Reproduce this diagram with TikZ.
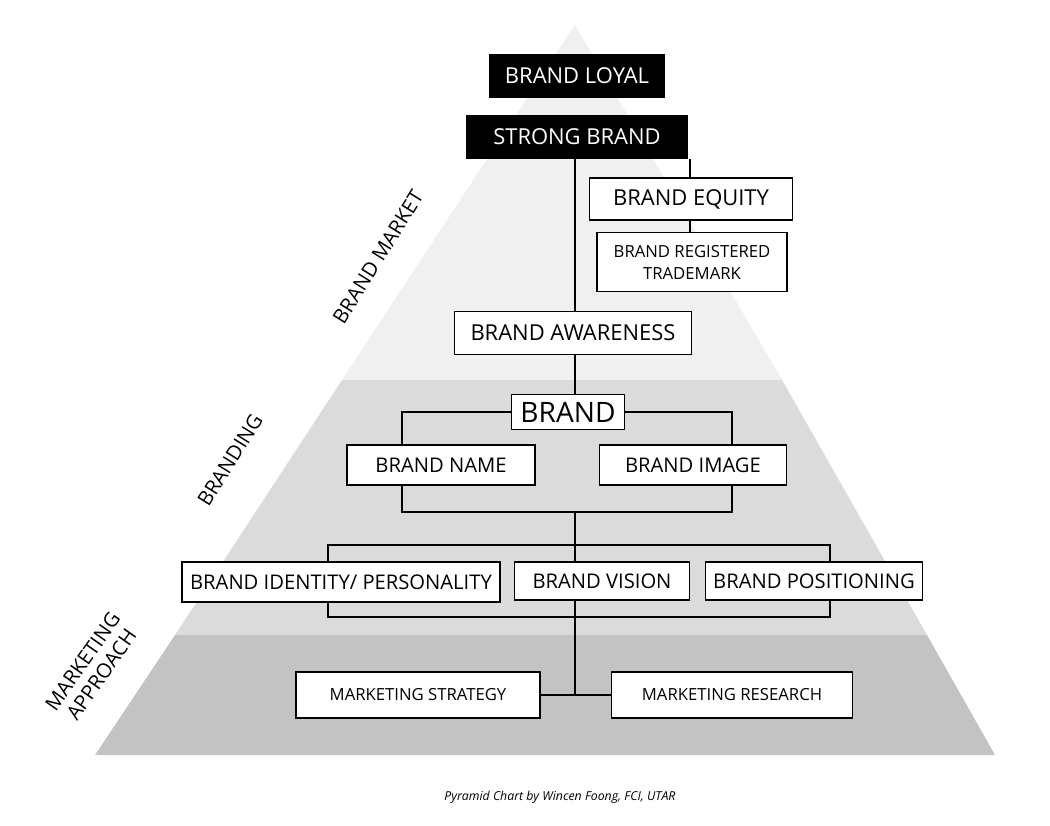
\documentclass[tikz,border=0pt]{standalone}
\usepackage{fontspec}
\setmainfont{Open Sans}
\usetikzlibrary{positioning}

\begin{document}
\begin{tikzpicture}[x=0.02cm, y=-0.02cm,
	box/.style={draw, fill=white, line width=0.9pt, inner sep=0pt, font=\fontsize{12.5}{14}\selectfont},
	dark/.style={box, fill=black, text=white},
	link/.style={line width=1.2pt},
	side/.style={font=\fontsize{11.5}{13}\selectfont, align=center}]
	\useasboundingbox (0,0) rectangle (1050,825);
	% pyramid bands
	\fill[gray!12] (575,25) -- (342,380) -- (782,380) -- cycle;
	\fill[gray!28] (342,380) -- (175,635) -- (927,635) -- (782,380) -- cycle;
	\fill[gray!47] (175,635) -- (95,755) -- (995,755) -- (927,635) -- cycle;
	
	\node[dark, minimum width=3.5cm, minimum height=0.84cm](LOYAL) at (577,76){BRAND LOYAL};
	\node[dark, minimum width=4.42cm, minimum height=0.86cm](STRONG) at (577,137){STRONG BRAND};
	\node[box, minimum width=4.06cm, minimum height=0.84cm](EQUITY) at (691,199){BRAND EQUITY};
	\node[box, minimum width=3.8cm, minimum height=1.18cm, align=center, font=\fontsize{9.5}{12.5}\selectfont](TM) at (692,262){BRAND REGISTERED\\TRADEMARK};
	\node[box, minimum width=4.74cm, minimum height=0.86cm](AWARE) at (573,333){BRAND AWARENESS};
	\node[box, minimum width=2.26cm, minimum height=0.7cm, font=\fontsize{16}{18}\selectfont](BRAND) at (568,412){BRAND};
	\node[box, minimum width=3.76cm, minimum height=0.8cm, font=\fontsize{11.5}{13}\selectfont](NAME) at (441,465){BRAND NAME};
	\node[box, minimum width=3.74cm, minimum height=0.8cm, font=\fontsize{11.5}{13}\selectfont](IMAGE) at (693,465){BRAND IMAGE};
	\node[box, minimum width=6.36cm, minimum height=0.8cm, font=\fontsize{11.5}{13}\selectfont](IDENT) at (341,582){BRAND IDENTITY/ PERSONALITY};
	\node[box, minimum width=3.5cm, minimum height=0.76cm, font=\fontsize{11.5}{13}\selectfont](VISION) at (602,581){BRAND VISION};
	\node[box, minimum width=4.34cm, minimum height=0.76cm, font=\fontsize{11.5}{13}\selectfont](POS) at (814,581){BRAND POSITIONING};
	\node[box, minimum width=4.88cm, minimum height=0.92cm, font=\fontsize{9.5}{12}\selectfont](STRAT) at (418,695){MARKETING STRATEGY};
	\node[box, minimum width=4.82cm, minimum height=0.92cm, font=\fontsize{9.5}{12}\selectfont](RES) at (732,695){MARKETING RESEARCH};
	
	% connectors
	\coordinate(C1) at (575,512);
	\coordinate(C2) at (575,545);
	\coordinate(C3) at (575,617);
	\coordinate(C4) at (575,695);
	\draw[link] (STRONG.south -| 575,0) -- (AWARE.north -| 575,0);
	\draw[link] (AWARE.south -| 575,0) -- (BRAND.north -| 575,0);
	\draw[link] (STRONG.south -| 690,0) -- (EQUITY.north -| 690,0);
	\draw[link] (EQUITY.south -| 690,0) -- (TM.north -| 690,0);
	\draw[link] (BRAND.west) -| (NAME.north -| 402,0);
	\draw[link] (BRAND.east) -| (IMAGE.north -| 732,0);
	\draw[link] (NAME.south -| 402,0) |- (C1) -| (IMAGE.south -| 732,0);
	\draw[link] (C1) -- (C2);
	\draw[link] (IDENT.north -| 328,0) |- (C2) -| (POS.north -| 830,0);
	\draw[link] (C2) -- (VISION.north -| 575,0);
	\draw[link] (IDENT.south -| 328,0) |- (C3) -| (POS.south -| 830,0);
	\draw[link] (VISION.south -| 575,0) -- (C3) -- (C4);
	\draw[link] (STRAT.east) -- (C4) -- (RES.west);
	
	% side labels
	\node[side, rotate=58](MARKET) at (378,257){BRAND MARKET};
	\node[side, rotate=58](BRANDING) at (230,460){BRANDING};
	\node[side, rotate=55](APPROACH) at (92,668){MARKETING\\APPROACH};
	\node[font=\fontsize{7}{8}\selectfont\itshape](CAPTION) at (560,797){Pyramid Chart by Wincen Foong, FCI, UTAR};
\end{tikzpicture}
\end{document}
